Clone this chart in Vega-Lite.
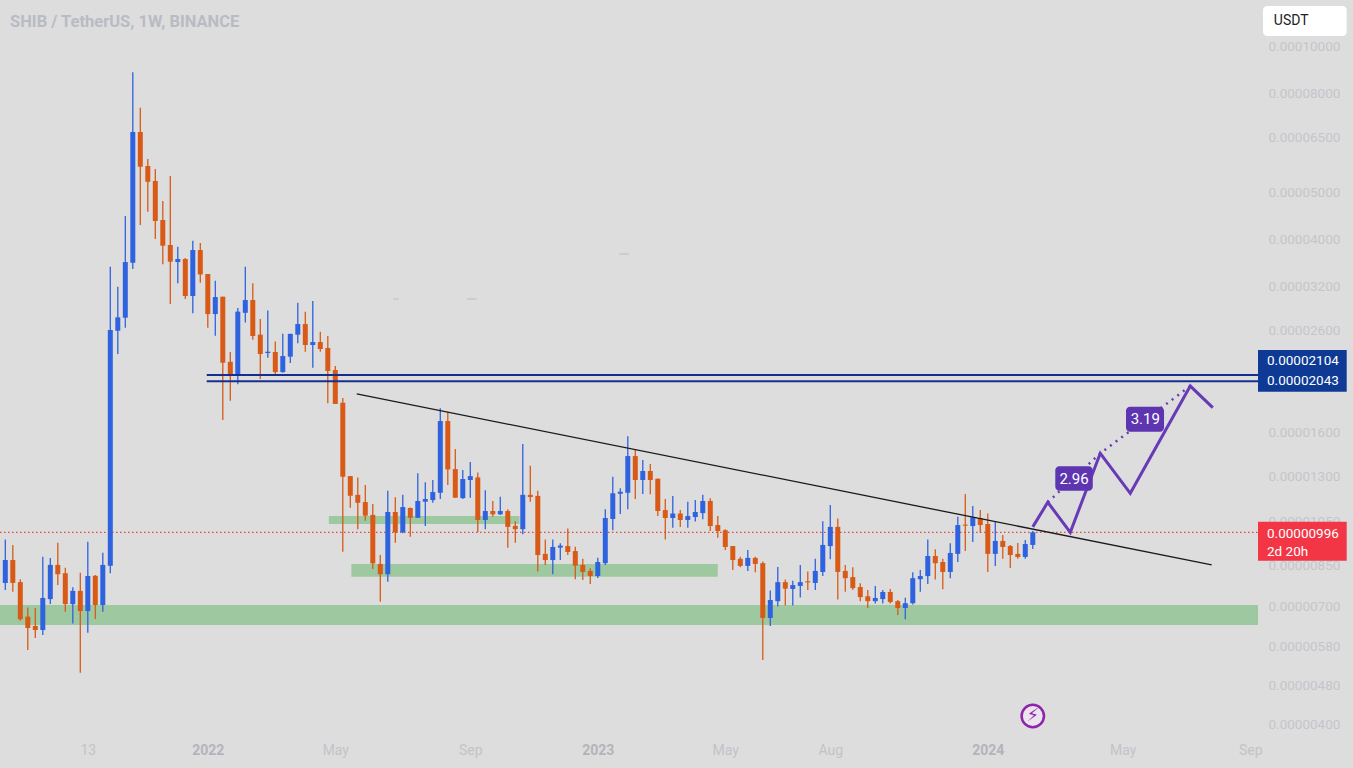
{
  "$schema": "https://vega.github.io/schema/vega-lite/v6.json",
  "description": "SHIB / TetherUS weekly candles with support zones, resistance lines, trendline and projected path",
  "width": 1258,
  "height": 738,
  "autosize": "none",
  "padding": {"left": 0, "top": 0, "right": 95, "bottom": 30},
  "background": "#dddddd",
  "title": {"text": "SHIB / TetherUS, 1W, BINANCE", "anchor": "start", "frame": "group", "offset": -30, "dx": 10, "fontSize": 16.5, "fontWeight": "bold", "color": "#b9bbc4", "font": "Roboto"},
  "config": {
    "view": {"stroke": null},
    "font": "Roboto",
    "axis": {"grid": false, "domain": false, "ticks": false, "title": null}
  },
  "datasets": {
    "candles": [
      {"t":"2021-06-28","o":0.00000783,"h":0.00000963,"l":0.00000757,"c":0.00000873,"dir":"up"},
      {"t":"2021-07-05","o":0.00000873,"h":0.00000938,"l":0.00000751,"c":0.00000783,"dir":"down"},
      {"t":"2021-07-12","o":0.00000786,"h":0.00000797,"l":0.00000654,"c":0.00000659,"dir":"down"},
      {"t":"2021-07-19","o":0.00000667,"h":0.00000697,"l":0.00000569,"c":0.00000632,"dir":"down"},
      {"t":"2021-07-26","o":0.00000638,"h":0.00000695,"l":0.00000603,"c":0.00000626,"dir":"down"},
      {"t":"2021-08-02","o":0.00000626,"h":0.00000887,"l":0.00000611,"c":0.00000729,"dir":"up"},
      {"t":"2021-08-09","o":0.00000725,"h":0.00000882,"l":0.00000708,"c":0.00000853,"dir":"up"},
      {"t":"2021-08-16","o":0.00000853,"h":0.00000948,"l":0.00000775,"c":0.00000816,"dir":"down"},
      {"t":"2021-08-23","o":0.00000820,"h":0.00000842,"l":0.00000683,"c":0.00000708,"dir":"down"},
      {"t":"2021-08-30","o":0.00000708,"h":0.00000767,"l":0.00000646,"c":0.00000754,"dir":"up"},
      {"t":"2021-09-06","o":0.00000754,"h":0.00000822,"l":0.00000511,"c":0.00000685,"dir":"down"},
      {"t":"2021-09-13","o":0.00000685,"h":0.00000952,"l":0.00000618,"c":0.00000809,"dir":"up"},
      {"t":"2021-09-20","o":0.00000810,"h":0.00000813,"l":0.00000660,"c":0.00000705,"dir":"down"},
      {"t":"2021-09-27","o":0.00000705,"h":0.00000904,"l":0.00000683,"c":0.00000853,"dir":"up"},
      {"t":"2021-10-04","o":0.00000850,"h":0.00003520,"l":0.00000820,"c":0.00002605,"dir":"up"},
      {"t":"2021-10-11","o":0.00002596,"h":0.00003200,"l":0.00002324,"c":0.00002767,"dir":"up"},
      {"t":"2021-10-18","o":0.00002762,"h":0.00004478,"l":0.00002633,"c":0.00003598,"dir":"up"},
      {"t":"2021-10-25","o":0.00003585,"h":0.00008866,"l":0.00003481,"c":0.00006677,"dir":"up"},
      {"t":"2021-11-01","o":0.00006677,"h":0.00007493,"l":0.00004290,"c":0.00005660,"dir":"down"},
      {"t":"2021-11-08","o":0.00005680,"h":0.00005872,"l":0.00004570,"c":0.00005270,"dir":"down"},
      {"t":"2021-11-15","o":0.00005290,"h":0.00005600,"l":0.00004015,"c":0.00004373,"dir":"down"},
      {"t":"2021-11-22","o":0.00004394,"h":0.00004810,"l":0.00003560,"c":0.00003889,"dir":"down"},
      {"t":"2021-11-29","o":0.00003902,"h":0.00005416,"l":0.00002948,"c":0.00003604,"dir":"down"},
      {"t":"2021-12-06","o":0.00003598,"h":0.00003870,"l":0.00003252,"c":0.00003650,"dir":"up"},
      {"t":"2021-12-13","o":0.00003650,"h":0.00003668,"l":0.00003018,"c":0.00003062,"dir":"down"},
      {"t":"2021-12-20","o":0.00003062,"h":0.00003982,"l":0.00002820,"c":0.00003810,"dir":"up"},
      {"t":"2021-12-27","o":0.00003810,"h":0.00003941,"l":0.00003262,"c":0.00003393,"dir":"down"},
      {"t":"2022-01-03","o":0.00003400,"h":0.00003400,"l":0.00002633,"c":0.00002810,"dir":"down"},
      {"t":"2022-01-10","o":0.00002810,"h":0.00003293,"l":0.00002535,"c":0.00003047,"dir":"up"},
      {"t":"2022-01-17","o":0.00003052,"h":0.00003052,"l":0.00001699,"c":0.00002230,"dir":"down"},
      {"t":"2022-01-24","o":0.00002240,"h":0.00002346,"l":0.00001861,"c":0.00002096,"dir":"down"},
      {"t":"2022-01-31","o":0.00002096,"h":0.00002892,"l":0.00002013,"c":0.00002843,"dir":"up"},
      {"t":"2022-02-07","o":0.00002827,"h":0.00003520,"l":0.00002701,"c":0.00003004,"dir":"up"},
      {"t":"2022-02-14","o":0.00003004,"h":0.00003252,"l":0.00002486,"c":0.00002532,"dir":"down"},
      {"t":"2022-02-21","o":0.00002548,"h":0.00002745,"l":0.00002063,"c":0.00002324,"dir":"down"},
      {"t":"2022-02-28","o":0.00002335,"h":0.00002857,"l":0.00002284,"c":0.00002350,"dir":"up"},
      {"t":"2022-03-07","o":0.00002347,"h":0.00002466,"l":0.00002110,"c":0.00002133,"dir":"down"},
      {"t":"2022-03-14","o":0.00002133,"h":0.00002558,"l":0.00002126,"c":0.00002302,"dir":"up"},
      {"t":"2022-03-21","o":0.00002295,"h":0.00002558,"l":0.00002226,"c":0.00002558,"dir":"up"},
      {"t":"2022-03-28","o":0.00002548,"h":0.00002966,"l":0.00002445,"c":0.00002680,"dir":"up"},
      {"t":"2022-04-04","o":0.00002680,"h":0.00002843,"l":0.00002350,"c":0.00002426,"dir":"down"},
      {"t":"2022-04-11","o":0.00002426,"h":0.00002990,"l":0.00002178,"c":0.00002460,"dir":"up"},
      {"t":"2022-04-18","o":0.00002460,"h":0.00002584,"l":0.00002350,"c":0.00002380,"dir":"down"},
      {"t":"2022-04-25","o":0.00002392,"h":0.00002532,"l":0.00001839,"c":0.00002144,"dir":"down"},
      {"t":"2022-05-02","o":0.00002154,"h":0.00002195,"l":0.00001833,"c":0.00001833,"dir":"down"},
      {"t":"2022-05-09","o":0.00001844,"h":0.00001885,"l":0.00000908,"c":0.00001297,"dir":"down"},
      {"t":"2022-05-16","o":0.00001301,"h":0.00001301,"l":0.00001119,"c":0.00001185,"dir":"down"},
      {"t":"2022-05-23","o":0.00001190,"h":0.00001293,"l":0.00001011,"c":0.00001146,"dir":"down"},
      {"t":"2022-05-30","o":0.00001150,"h":0.00001247,"l":0.00001052,"c":0.00001078,"dir":"down"},
      {"t":"2022-06-06","o":0.00001082,"h":0.00001140,"l":0.00000837,"c":0.00000859,"dir":"down"},
      {"t":"2022-06-13","o":0.00000857,"h":0.00000894,"l":0.00000716,"c":0.00000816,"dir":"down"},
      {"t":"2022-06-20","o":0.00000816,"h":0.00001213,"l":0.00000787,"c":0.00001097,"dir":"up"},
      {"t":"2022-06-27","o":0.00001097,"h":0.00001176,"l":0.00000948,"c":0.00000996,"dir":"down"},
      {"t":"2022-07-04","o":0.00000996,"h":0.00001191,"l":0.00000991,"c":0.00001123,"dir":"up"},
      {"t":"2022-07-11","o":0.00001118,"h":0.00001121,"l":0.00000975,"c":0.00001067,"dir":"down"},
      {"t":"2022-07-18","o":0.00001067,"h":0.00001318,"l":0.00001067,"c":0.00001156,"dir":"up"},
      {"t":"2022-07-25","o":0.00001152,"h":0.00001263,"l":0.00001026,"c":0.00001167,"dir":"up"},
      {"t":"2022-08-01","o":0.00001161,"h":0.00001277,"l":0.00001146,"c":0.00001206,"dir":"up"},
      {"t":"2022-08-08","o":0.00001202,"h":0.00001796,"l":0.00001167,"c":0.00001690,"dir":"up"},
      {"t":"2022-08-15","o":0.00001690,"h":0.00001767,"l":0.00001247,"c":0.00001343,"dir":"down"},
      {"t":"2022-08-22","o":0.00001345,"h":0.00001480,"l":0.00001174,"c":0.00001174,"dir":"down"},
      {"t":"2022-08-29","o":0.00001172,"h":0.00001339,"l":0.00001167,"c":0.00001283,"dir":"up"},
      {"t":"2022-09-05","o":0.00001277,"h":0.00001392,"l":0.00001174,"c":0.00001301,"dir":"up"},
      {"t":"2022-09-12","o":0.00001293,"h":0.00001324,"l":0.00000996,"c":0.00001056,"dir":"down"},
      {"t":"2022-09-19","o":0.00001056,"h":0.00001217,"l":0.00001011,"c":0.00001102,"dir":"up"},
      {"t":"2022-09-26","o":0.00001102,"h":0.00001156,"l":0.00001073,"c":0.00001085,"dir":"down"},
      {"t":"2022-10-03","o":0.00001085,"h":0.00001180,"l":0.00001082,"c":0.00001102,"dir":"up"},
      {"t":"2022-10-10","o":0.00001102,"h":0.00001112,"l":0.00000926,"c":0.00001022,"dir":"down"},
      {"t":"2022-10-17","o":0.00001027,"h":0.00001050,"l":0.00000948,"c":0.00001011,"dir":"down"},
      {"t":"2022-10-24","o":0.00001011,"h":0.00001515,"l":0.00000987,"c":0.00001190,"dir":"up"},
      {"t":"2022-10-31","o":0.00001190,"h":0.00001366,"l":0.00001152,"c":0.00001178,"dir":"down"},
      {"t":"2022-11-07","o":0.00001184,"h":0.00001213,"l":0.00000827,"c":0.00000894,"dir":"down"},
      {"t":"2022-11-14","o":0.00000899,"h":0.00000963,"l":0.00000853,"c":0.00000873,"dir":"down"},
      {"t":"2022-11-21","o":0.00000873,"h":0.00000963,"l":0.00000816,"c":0.00000929,"dir":"up"},
      {"t":"2022-11-28","o":0.00000926,"h":0.00000945,"l":0.00000873,"c":0.00000935,"dir":"up"},
      {"t":"2022-12-05","o":0.00000933,"h":0.00001014,"l":0.00000894,"c":0.00000907,"dir":"down"},
      {"t":"2022-12-12","o":0.00000911,"h":0.00000930,"l":0.00000797,"c":0.00000850,"dir":"down"},
      {"t":"2022-12-19","o":0.00000853,"h":0.00000878,"l":0.00000794,"c":0.00000825,"dir":"down"},
      {"t":"2022-12-26","o":0.00000829,"h":0.00000840,"l":0.00000779,"c":0.00000809,"dir":"down"},
      {"t":"2023-01-02","o":0.00000809,"h":0.00000883,"l":0.00000802,"c":0.00000865,"dir":"up"},
      {"t":"2023-01-09","o":0.00000860,"h":0.00001111,"l":0.00000853,"c":0.00001066,"dir":"up"},
      {"t":"2023-01-16","o":0.00001061,"h":0.00001297,"l":0.00001006,"c":0.00001199,"dir":"up"},
      {"t":"2023-01-23","o":0.00001196,"h":0.00001228,"l":0.00001087,"c":0.00001208,"dir":"up"},
      {"t":"2023-01-30","o":0.00001202,"h":0.00001573,"l":0.00001112,"c":0.00001431,"dir":"up"},
      {"t":"2023-02-06","o":0.00001431,"h":0.00001473,"l":0.00001167,"c":0.00001277,"dir":"down"},
      {"t":"2023-02-13","o":0.00001277,"h":0.00001404,"l":0.00001195,"c":0.00001333,"dir":"up"},
      {"t":"2023-02-20","o":0.00001333,"h":0.00001378,"l":0.00001193,"c":0.00001277,"dir":"down"},
      {"t":"2023-02-27","o":0.00001285,"h":0.00001287,"l":0.00001076,"c":0.00001102,"dir":"down"},
      {"t":"2023-03-06","o":0.00001107,"h":0.00001167,"l":0.00000963,"c":0.00001066,"dir":"down"},
      {"t":"2023-03-13","o":0.00001066,"h":0.00001184,"l":0.00001018,"c":0.00001089,"dir":"up"},
      {"t":"2023-03-20","o":0.00001089,"h":0.00001107,"l":0.00001022,"c":0.00001056,"dir":"down"},
      {"t":"2023-03-27","o":0.00001056,"h":0.00001152,"l":0.00001018,"c":0.00001076,"dir":"up"},
      {"t":"2023-04-03","o":0.00001071,"h":0.00001161,"l":0.00001048,"c":0.00001097,"dir":"up"},
      {"t":"2023-04-10","o":0.00001091,"h":0.00001190,"l":0.00001060,"c":0.00001156,"dir":"up"},
      {"t":"2023-04-17","o":0.00001156,"h":0.00001171,"l":0.00001002,"c":0.00001026,"dir":"down"},
      {"t":"2023-04-24","o":0.00001031,"h":0.00001076,"l":0.00000971,"c":0.00001002,"dir":"down"},
      {"t":"2023-05-01","o":0.00001006,"h":0.00001010,"l":0.00000916,"c":0.00000929,"dir":"down"},
      {"t":"2023-05-08","o":0.00000933,"h":0.00000933,"l":0.00000833,"c":0.00000873,"dir":"down"},
      {"t":"2023-05-15","o":0.00000878,"h":0.00000887,"l":0.00000844,"c":0.00000849,"dir":"down"},
      {"t":"2023-05-22","o":0.00000849,"h":0.00000916,"l":0.00000829,"c":0.00000882,"dir":"up"},
      {"t":"2023-05-29","o":0.00000882,"h":0.00000887,"l":0.00000824,"c":0.00000857,"dir":"down"},
      {"t":"2023-06-05","o":0.00000860,"h":0.00000867,"l":0.00000543,"c":0.00000663,"dir":"down"},
      {"t":"2023-06-12","o":0.00000663,"h":0.00000755,"l":0.00000638,"c":0.00000722,"dir":"up"},
      {"t":"2023-06-19","o":0.00000718,"h":0.00000845,"l":0.00000700,"c":0.00000786,"dir":"up"},
      {"t":"2023-06-26","o":0.00000786,"h":0.00000796,"l":0.00000703,"c":0.00000762,"dir":"down"},
      {"t":"2023-07-03","o":0.00000761,"h":0.00000791,"l":0.00000703,"c":0.00000775,"dir":"up"},
      {"t":"2023-07-10","o":0.00000772,"h":0.00000853,"l":0.00000731,"c":0.00000786,"dir":"up"},
      {"t":"2023-07-17","o":0.00000789,"h":0.00000827,"l":0.00000757,"c":0.00000785,"dir":"down"},
      {"t":"2023-07-24","o":0.00000783,"h":0.00000878,"l":0.00000757,"c":0.00000829,"dir":"up"},
      {"t":"2023-07-31","o":0.00000825,"h":0.00001050,"l":0.00000809,"c":0.00000938,"dir":"up"},
      {"t":"2023-08-07","o":0.00000933,"h":0.00001134,"l":0.00000876,"c":0.00001022,"dir":"up"},
      {"t":"2023-08-14","o":0.00001022,"h":0.00001064,"l":0.00000724,"c":0.00000825,"dir":"down"},
      {"t":"2023-08-21","o":0.00000829,"h":0.00000853,"l":0.00000751,"c":0.00000801,"dir":"down"},
      {"t":"2023-08-28","o":0.00000805,"h":0.00000844,"l":0.00000757,"c":0.00000764,"dir":"down"},
      {"t":"2023-09-04","o":0.00000768,"h":0.00000782,"l":0.00000718,"c":0.00000732,"dir":"down"},
      {"t":"2023-09-11","o":0.00000735,"h":0.00000757,"l":0.00000695,"c":0.00000718,"dir":"down"},
      {"t":"2023-09-18","o":0.00000718,"h":0.00000772,"l":0.00000710,"c":0.00000729,"dir":"up"},
      {"t":"2023-09-25","o":0.00000725,"h":0.00000757,"l":0.00000710,"c":0.00000750,"dir":"up"},
      {"t":"2023-10-02","o":0.00000750,"h":0.00000761,"l":0.00000710,"c":0.00000715,"dir":"down"},
      {"t":"2023-10-09","o":0.00000718,"h":0.00000722,"l":0.00000672,"c":0.00000695,"dir":"down"},
      {"t":"2023-10-16","o":0.00000695,"h":0.00000730,"l":0.00000659,"c":0.00000711,"dir":"up"},
      {"t":"2023-10-23","o":0.00000711,"h":0.00000824,"l":0.00000707,"c":0.00000801,"dir":"up"},
      {"t":"2023-10-30","o":0.00000797,"h":0.00000833,"l":0.00000751,"c":0.00000809,"dir":"up"},
      {"t":"2023-11-06","o":0.00000809,"h":0.00000963,"l":0.00000779,"c":0.00000890,"dir":"up"},
      {"t":"2023-11-13","o":0.00000890,"h":0.00000919,"l":0.00000796,"c":0.00000860,"dir":"down"},
      {"t":"2023-11-20","o":0.00000865,"h":0.00000878,"l":0.00000760,"c":0.00000825,"dir":"down"},
      {"t":"2023-11-27","o":0.00000825,"h":0.00000945,"l":0.00000801,"c":0.00000903,"dir":"up"},
      {"t":"2023-12-04","o":0.00000899,"h":0.00001073,"l":0.00000865,"c":0.00001031,"dir":"up"},
      {"t":"2023-12-11","o":0.00001033,"h":0.00001195,"l":0.00000911,"c":0.00001028,"dir":"down"},
      {"t":"2023-12-18","o":0.00001026,"h":0.00001128,"l":0.00000951,"c":0.00001070,"dir":"up"},
      {"t":"2023-12-25","o":0.00001066,"h":0.00001107,"l":0.00000994,"c":0.00001031,"dir":"down"},
      {"t":"2024-01-01","o":0.00001036,"h":0.00001089,"l":0.00000825,"c":0.00000899,"dir":"down"},
      {"t":"2024-01-08","o":0.00000899,"h":0.00001050,"l":0.00000849,"c":0.00000956,"dir":"up"},
      {"t":"2024-01-15","o":0.00000956,"h":0.00000983,"l":0.00000878,"c":0.00000929,"dir":"down"},
      {"t":"2024-01-22","o":0.00000933,"h":0.00000938,"l":0.00000841,"c":0.00000894,"dir":"down"},
      {"t":"2024-01-29","o":0.00000899,"h":0.00000947,"l":0.00000878,"c":0.00000886,"dir":"down"},
      {"t":"2024-02-05","o":0.00000886,"h":0.00000960,"l":0.00000878,"c":0.00000942,"dir":"up"},
      {"t":"2024-02-12","o":0.00000938,"h":0.00001002,"l":0.00000920,"c":0.00000996,"dir":"up"}
    ]
  },
  "layer": [
    {
      "data": {"values": [
        {"t": "2022-04-26", "t2": "2022-10-21", "p": 0.00001076, "p2": 0.00001036},
        {"t": "2022-05-17", "t2": "2023-04-24", "p": 0.00000857, "p2": 0.00000806},
        {"t": "2021-06-23T01:11:00Z", "t2": "2024-09-09T05:00:00Z", "p": 0.00000705, "p2": 0.00000641}
      ]},
      "mark": {"type": "rect", "color": "#9ec89f"},
      "encoding": {
        "x": {
          "field": "t",
          "type": "temporal",
          "scale": {
            "type": "utc",
            "nice": false,
            "padding": 0,
            "domain": [
              {"year": 2021, "month": 6, "date": 23, "hours": 1, "minutes": 11, "utc": true},
              {"year": 2024, "month": 9, "date": 9, "hours": 5, "utc": true}
            ]
          },
          "axis": {
            "values": [
              {"year": 2021, "month": 9, "date": 13, "utc": true},
              {"year": 2022, "month": 1, "date": 3, "utc": true},
              {"year": 2022, "month": 5, "date": 2, "utc": true},
              {"year": 2022, "month": 9, "date": 5, "utc": true},
              {"year": 2023, "month": 1, "date": 2, "utc": true},
              {"year": 2023, "month": 5, "date": 1, "utc": true},
              {"year": 2023, "month": 8, "date": 7, "utc": true},
              {"year": 2024, "month": 1, "date": 1, "utc": true},
              {"year": 2024, "month": 5, "date": 6, "utc": true},
              {"year": 2024, "month": 9, "date": 2, "utc": true}
            ],
            "labelExpr": "utcmonth(datum.value)==0 ? utcyear(datum.value) : utcFormat(datum.value, utcyear(datum.value)==2021 ? '%d' : '%b')",
            "labelFontSize": 14,
            "labelPadding": 5,
            "labelBound": false,
            "labelFlush": false,
            "labelOverlap": false,
            "labelColor": {"condition": {"test": "utcmonth(datum.value)==0", "value": "#b3b4bb"}, "value": "#c2c3c8"},
            "labelFontWeight": {"condition": {"test": "utcmonth(datum.value)==0", "value": "bold"}, "value": "normal"}
          }
        },
        "x2": {"field": "t2"},
        "y": {
          "field": "p",
          "type": "quantitative",
          "scale": {"type": "log", "nice": false, "domain": [0.000003747, 0.00012503]},
          "axis": {
            "orient": "right",
            "values": [0.0001, 0.00008, 0.000065, 0.00005, 0.00004, 0.000032, 0.000026, 0.000016, 0.000013, 0.0000105, 0.0000085, 0.000007, 0.0000058, 0.0000048, 0.000004],
            "format": ".8f",
            "labelFontSize": 13.5,
            "labelPadding": 10,
            "labelColor": "#c4c5ca",
            "labelOverlap": false,
            "labelBound": false,
            "labelFlush": false
          }
        },
        "y2": {"field": "p2"}
      }
    },
    {
      "data": {"values": [{"t": "2021-06-23T01:11:00Z", "t2": "2024-09-09T05:00:00Z", "p": 0.00000996}]},
      "mark": {"type": "rule", "color": "#e2453c", "strokeWidth": 1.2, "strokeDash": [1.5, 2.5]},
      "encoding": {
        "x": {"field": "t", "type": "temporal"},
        "x2": {"field": "t2"},
        "y": {"field": "p", "type": "quantitative"}
      }
    },
    {
      "data": {"name": "candles"},
      "mark": {"type": "rule", "strokeWidth": 1.3},
      "encoding": {
        "x": {"field": "t", "type": "temporal"},
        "y": {"field": "h", "type": "quantitative"},
        "y2": {"field": "l"},
        "color": {"field": "dir", "type": "nominal", "legend": null, "scale": {"domain": ["up", "down"], "range": ["#2e62df", "#d85a16"]}}
      }
    },
    {
      "data": {"name": "candles"},
      "mark": {"type": "bar", "size": 5},
      "encoding": {
        "x": {"field": "t", "type": "temporal"},
        "y": {"field": "o", "type": "quantitative"},
        "y2": {"field": "c"},
        "color": {"field": "dir", "type": "nominal", "legend": null}
      }
    },
    {
      "data": {"values": [
        {"t": "2022-06-25", "t2": "2022-06-30", "p": 0.00003019},
        {"t": "2022-09-02", "t2": "2022-09-11", "p": 0.00003019},
        {"t": "2023-01-22", "t2": "2023-01-31", "p": 0.00003738}
      ]},
      "mark": {"type": "rule", "color": "#bdbdbd", "strokeWidth": 1},
      "encoding": {
        "x": {"field": "t", "type": "temporal"},
        "x2": {"field": "t2"},
        "y": {"field": "p", "type": "quantitative"}
      }
    },
    {
      "data": {"values": [
        {"t": "2022-01-02", "t2": "2024-09-09T05:00:00Z", "p": 0.00002104},
        {"t": "2022-01-02", "t2": "2024-09-09T05:00:00Z", "p": 0.00002043}
      ]},
      "mark": {"type": "rule", "color": "#15308c", "strokeWidth": 2},
      "encoding": {
        "x": {"field": "t", "type": "temporal"},
        "x2": {"field": "t2"},
        "y": {"field": "p", "type": "quantitative"}
      }
    },
    {
      "data": {"values": [
        {"t": "2022-05-22", "p": 0.00001923},
        {"t": "2024-07-28", "p": 0.00000853}
      ]},
      "mark": {"type": "line", "color": "#1a1a1a", "strokeWidth": 1.3},
      "encoding": {
        "x": {"field": "t", "type": "temporal"},
        "y": {"field": "p", "type": "quantitative"}
      }
    },
    {
      "data": {"values": [
        {"t": "2024-02-26", "p": 0.00001149},
        {"t": "2024-04-15", "p": 0.0000145},
        {"t": "2024-07-08", "p": 0.00001996}
      ]},
      "mark": {"type": "line", "color": "#673ab7", "strokeWidth": 2.5, "strokeDash": [2, 5]},
      "encoding": {
        "x": {"field": "t", "type": "temporal"},
        "y": {"field": "p", "type": "quantitative"}
      }
    },
    {
      "data": {"values": [
        {"t": "2024-02-12", "p": 0.00001022},
        {"t": "2024-02-26", "p": 0.00001149},
        {"t": "2024-03-18", "p": 0.00000996},
        {"t": "2024-04-15", "p": 0.0000145},
        {"t": "2024-05-13", "p": 0.00001199},
        {"t": "2024-07-08", "p": 0.00001996},
        {"t": "2024-07-29", "p": 0.00001801}
      ]},
      "mark": {"type": "line", "color": "#673ab7", "strokeWidth": 3},
      "encoding": {
        "x": {"field": "t", "type": "temporal"},
        "y": {"field": "p", "type": "quantitative"}
      }
    },
    {
      "data": {"values": [
        {"t": "2024-03-04", "t2": "2024-04-08", "p": 0.00001364, "p2": 0.00001213},
        {"t": "2024-05-09", "t2": "2024-06-13T12:00:00Z", "p": 0.0000181, "p2": 0.00001606}
      ]},
      "mark": {"type": "rect", "color": "#5e35b1", "cornerRadius": 4},
      "encoding": {
        "x": {"field": "t", "type": "temporal"},
        "x2": {"field": "t2"},
        "y": {"field": "p", "type": "quantitative"},
        "y2": {"field": "p2"}
      }
    },
    {
      "data": {"values": [
        {"t": "2024-03-21T12:00:00Z", "p": 0.00001286, "label": "2.96"},
        {"t": "2024-05-27", "p": 0.00001707, "label": "3.19"}
      ]},
      "mark": {"type": "text", "color": "#ffffff", "fontSize": 15, "align": "center", "baseline": "middle"},
      "encoding": {
        "x": {"field": "t", "type": "temporal"},
        "y": {"field": "p", "type": "quantitative"},
        "text": {"field": "label"}
      }
    },
    {
      "data": {"values": [
        {"t": "2024-09-09T05:00:00Z", "t2": "2024-12-01", "p": 0.00002369, "p2": 0.00002144},
        {"t": "2024-09-09T05:00:00Z", "t2": "2024-12-01", "p": 0.00002144, "p2": 0.00001943}
      ]},
      "mark": {"type": "rect", "color": "#0e3a96"},
      "encoding": {
        "x": {"field": "t", "type": "temporal"},
        "x2": {"field": "t2"},
        "y": {"field": "p", "type": "quantitative"},
        "y2": {"field": "p2"}
      }
    },
    {
      "data": {"values": [{"t": "2024-09-09T05:00:00Z", "t2": "2024-12-01", "p": 0.00001047, "p2": 0.0000087}]},
      "mark": {"type": "rect", "color": "#f23645"},
      "encoding": {
        "x": {"field": "t", "type": "temporal"},
        "x2": {"field": "t2"},
        "y": {"field": "p", "type": "quantitative"},
        "y2": {"field": "p2"}
      }
    },
    {
      "data": {"values": [
        {"t": "2024-09-17T15:00:00Z", "p": 0.00002248, "label": "0.00002104"},
        {"t": "2024-09-17T15:00:00Z", "p": 0.00002044, "label": "0.00002043"},
        {"t": "2024-09-17T15:00:00Z", "p": 0.00000988, "label": "0.00000996"},
        {"t": "2024-09-17T15:00:00Z", "p": 0.00000908, "label": "2d 20h"}
      ]},
      "mark": {"type": "text", "color": "#ffffff", "fontSize": 13.5, "align": "left", "baseline": "middle"},
      "encoding": {
        "x": {"field": "t", "type": "temporal"},
        "y": {"field": "p", "type": "quantitative"},
        "text": {"field": "label"}
      }
    },
    {
      "data": {"values": [{"t": "2024-09-13T21:00:00Z", "t2": "2024-12-01", "p": 0.00012151, "p2": 0.00010537}]},
      "mark": {"type": "rect", "color": "#ffffff", "cornerRadius": 4},
      "encoding": {
        "x": {"field": "t", "type": "temporal"},
        "x2": {"field": "t2"},
        "y": {"field": "p", "type": "quantitative"},
        "y2": {"field": "p2"}
      }
    },
    {
      "data": {"values": [{"t": "2024-09-24", "p": 0.00011315, "label": "USDT"}]},
      "mark": {"type": "text", "color": "#222222", "fontSize": 14, "align": "left", "baseline": "middle"},
      "encoding": {
        "x": {"field": "t", "type": "temporal"},
        "y": {"field": "p", "type": "quantitative"},
        "text": {"field": "label"}
      }
    },
    {
      "data": {"values": [{"t": "2024-02-12", "p": 0.00000416}]},
      "mark": {"type": "point", "shape": "circle", "filled": true, "size": 500, "fill": "#ebe4ee", "stroke": "#8e24aa", "strokeWidth": 2.5, "opacity": 1},
      "encoding": {
        "x": {"field": "t", "type": "temporal"},
        "y": {"field": "p", "type": "quantitative"}
      }
    },
    {
      "data": {"values": [{"t": "2024-02-12", "p": 0.00000416, "label": "⚡"}]},
      "mark": {"type": "text", "color": "#8e24aa", "font": "DejaVu Sans", "fontSize": 18, "align": "center", "baseline": "middle"},
      "encoding": {
        "x": {"field": "t", "type": "temporal"},
        "y": {"field": "p", "type": "quantitative"},
        "text": {"field": "label"}
      }
    }
  ]
}
